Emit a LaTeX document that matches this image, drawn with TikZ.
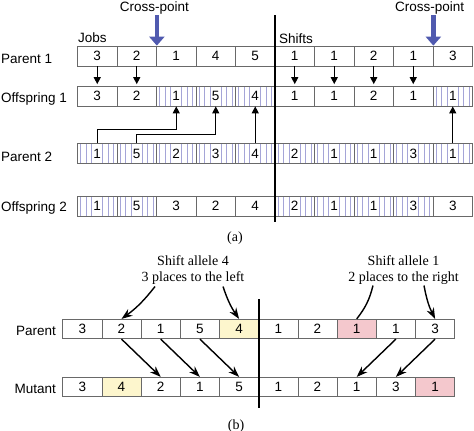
\documentclass[tikz,border=0pt]{standalone}
\usepackage{fontspec}
\setmainfont{Liberation Sans}
\newfontfamily\seriffont{Liberation Serif}
\usetikzlibrary{arrows.meta,calc}
\definecolor{cellgray}{RGB}{105,105,105}
\definecolor{hatchcol}{RGB}{165,165,215}
\definecolor{yel}{RGB}{253,246,205}
\definecolor{pnk}{RGB}{244,200,205}
\definecolor{cpblue}{RGB}{80,90,175}
\begin{document}
\begin{tikzpicture}[x=1pt,y=-1pt,
  cellbox/.style={draw=cellgray, line width=0.7pt, minimum width=39.5pt, minimum height=20pt, inner sep=0pt, font=\fontsize{13.5}{14}\selectfont},
  bcell/.style={cellbox, minimum width=39.2pt, minimum height=19.5pt},
  plain/.style={},
  yfill/.style={fill=yel},
  pfill/.style={fill=pnk},
  hatched/.style={path picture={
    \foreach \f in {0.08,0.22,0.36,0.64,0.78,0.92}{
      \draw[hatchcol,line width=0.8pt]
        ($(path picture bounding box.south west)!\f!(path picture bounding box.south east)$) --
        ($(path picture bounding box.north west)!\f!(path picture bounding box.north east)$);}}},
  lbl/.style={inner sep=0pt, font=\fontsize{13.5}{14}\selectfont},
  slbl/.style={inner sep=0pt, font=\seriffont\fontsize{14}{16}\selectfont},
  arr/.style={-{Triangle[length=7pt,width=7pt]}, line width=1.1pt, black},
  barr/.style={-{Stealth[length=11pt,width=8pt]}, line width=1.4pt, black},
  bline/.style={line width=1.4pt, black},
  cross/.style={-{Triangle[length=9pt,width=15pt]}, line width=4.5pt, cpblue},
  divider/.style={line width=1.8pt, black}
]
\useasboundingbox (0,0) rectangle (474,431);

% ---------------- part (a) ----------------
\foreach \v [count=\i] in {3,2,1,4,5,1,1,2,1,3}
  \node[cellbox] (p1-\i) at ({77.5+39.5*(\i-0.5)},56) {\v};
\foreach \v/\s [count=\i] in {3/plain,2/plain,1/hatched,5/hatched,4/hatched,1/plain,1/plain,2/plain,1/plain,1/hatched}
  \node[cellbox,\s] (o1-\i) at ({77.5+39.5*(\i-0.5)},96) {\v};
\foreach \v [count=\i] in {1,5,2,3,4,2,1,1,3,1}
  \node[cellbox,hatched] (p2-\i) at ({77.5+39.5*(\i-0.5)},153.7) {\v};
\foreach \v/\s [count=\i] in {1/hatched,5/hatched,3/plain,2/plain,4/plain,2/hatched,1/hatched,1/hatched,3/hatched,3/plain}
  \node[cellbox,\s] (o2-\i) at ({77.5+39.5*(\i-0.5)},206) {\v};

\node[lbl, anchor=base west] (lp1) at (1,63) {Parent 1};
\node[lbl, anchor=base west] (lo1) at (1,102) {Offspring 1};
\node[lbl, anchor=base west] (lp2) at (1,161.5) {Parent 2};
\node[lbl, anchor=base west] (lo2) at (1,211.5) {Offspring 2};

\node[lbl, anchor=base west] (jobs) at (78,42.5) {Jobs};
\node[lbl, anchor=base west] (shifts) at (279,43) {Shifts};

\node[lbl, anchor=base] (cpl1) at (154.5,12) {Cross-point};
\node[lbl, anchor=base] (cpl2) at (429.7,12) {Cross-point};
\draw[cross] (cpl1.south -| p1-2.north east) -- (p1-2.north east);
\draw[cross] (cpl2.south -| p1-9.north east) -- (p1-9.north east);

\foreach \i in {1,2,6,7,8,9}
  \draw[arr, shorten >=1.5pt] (p1-\i.south) -- (o1-\i.north);

\draw[arr] (p2-1.north) -- ++(0,-14.2) -| (o1-3.south);
\draw[arr] (p2-2.north) -- ++(0,-8.5) -| (o1-4.south);
\draw[arr] (p2-5.north) -- (o1-5.south);
\draw[arr] (p2-10.north) -- (o1-10.south);

\coordinate (da1) at (275,15);
\coordinate (da2) at (275,222);
\draw[divider] (da1) -- (da2);

\node[slbl] (capa) at (235,238.5) {(a)};

% ---------------- part (b) ----------------
\foreach \v/\s [count=\i] in {3/plain,2/plain,1/plain,5/plain,4/yfill,1/plain,2/plain,1/pfill,1/plain,3/plain}
  \node[bcell,\s] (bp-\i) at ({62.7+39.2*(\i-0.5)},329) {\v};
\foreach \v/\s [count=\i] in {3/plain,4/yfill,2/plain,1/plain,5/plain,1/plain,2/plain,1/plain,3/plain,1/pfill}
  \node[bcell,\s] (bm-\i) at ({62.7+39.2*(\i-0.5)},387) {\v};

\node[lbl, anchor=base east] (lpar) at (56,335) {Parent};
\node[lbl, anchor=base east] (lmut) at (56,393) {Mutant};

\node[slbl, anchor=base] (t1a) at (193,265) {Shift allele 4};
\node[slbl, anchor=base] (t1b) at (193,281) {3 places to the left};
\node[slbl, anchor=base] (t2a) at (403.5,265) {Shift allele 1};
\node[slbl, anchor=base] (t2b) at (403.5,281) {2 places to the right};

\coordinate (s1) at (155,286.5);
\coordinate (s2) at (223,286.5);
\coordinate (s3) at (373,285.5);
\coordinate (s4) at (424,285.5);
\draw[barr] (s1) to[bend left=8] (bp-2.north);
\draw[barr] (s2) to[bend right=8] (bp-5.north);
\draw[bline] (s3) to[bend left=12] (bp-8.north);
\draw[barr] (s4) to[bend right=8] (bp-10.north);

\draw[barr] (bp-2.south) -- (bm-3.north);
\draw[barr] (bp-3.south) -- (bm-4.north);
\draw[barr] (bp-4.south) -- (bm-5.north);
\draw[barr] (bp-9.south) -- (bm-8.north);
\draw[barr] (bp-10.south) -- (bm-9.north);

\coordinate (db1) at (258.7,299);
\coordinate (db2) at (258.7,408);
\draw[divider] (db1) -- (db2);

\node[slbl] (capb) at (236,426) {(b)};
\end{tikzpicture}
\end{document}
